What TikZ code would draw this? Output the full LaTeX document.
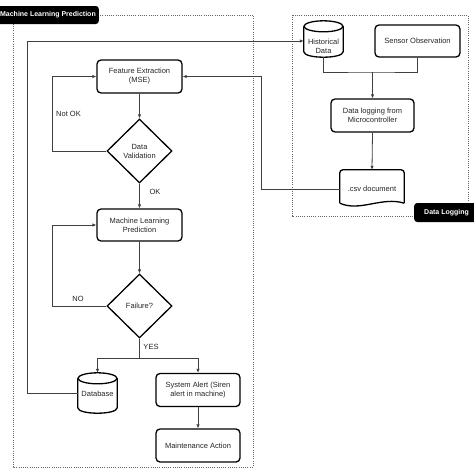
\documentclass[tikz,border=0pt]{standalone}
\usepackage{fontspec}
\setmainfont{Liberation Sans}
\usetikzlibrary{shapes.geometric,arrows.meta}
\newcommand\cylshape[1]{%
  \draw[cyl] ([yshift=-5.5pt]#1.north west) -- ([yshift=5.5pt]#1.south west)
    .. controls ([yshift=-1.83pt]#1.south west) and ([yshift=-1.83pt]#1.south east) ..
    ([yshift=5.5pt]#1.south east) -- ([yshift=-5.5pt]#1.north east);
  \draw[cyl] ([yshift=-5.5pt]#1.north) ellipse [x radius=19.5pt, y radius=5.5pt];
}
\begin{document}
\begin{tikzpicture}[x=1pt,y=-1pt,
 font=\fontsize{7.5}{9}\selectfont,
 box/.style={draw=black, line width=1.3pt, rounded corners=4pt, align=center, text=black!85},
 proc/.style={box, minimum width=85pt, minimum height=33pt, inner sep=1pt},
 dec/.style={diamond, draw=black, line width=1.3pt, minimum width=65pt, minimum height=64pt, inner sep=0pt, align=center, text=black!85},
 hid/.style={inner sep=0pt, align=center, text=black!85},
 cyl/.style={draw=black, line width=1.3pt},
 conn/.style={draw=black!75, line width=0.8pt},
 arr/.style={conn, -{Latex[length=4pt,width=3.5pt]}},
 grp/.style={draw=black!60, line width=0.9pt, dash pattern=on 1pt off 1.2pt},
 tag/.style={fill=black, text=white, font=\fontsize{7}{8.5}\selectfont\bfseries, rounded corners=3pt, minimum height=18pt, inner xsep=3pt, inner ysep=0pt},
 lbl/.style={inner sep=0pt, text=black!85}
]
\useasboundingbox (0,0) rectangle (474,474);
\fill[white] (0,0) rectangle (474,474);

% groups
\draw[grp] (13,15) rectangle (253,467);
\draw[grp] (292,15) rectangle (468,216);

% left flow
\node[proc] (fe) at (139.5,76.5) {Feature Extraction\\(MSE)};
\node[dec] (dv) at (139.5,151) {Data\\Validation};
\node[proc, minimum height=32pt] (ml) at (139.5,225) {Machine Learning\\Prediction};
\node[dec] (fail) at (139.5,306) {Failure?};
\node[proc, minimum width=84pt] (alert) at (198,390) {System Alert (Siren\\alert in machine)};
\node[proc, minimum width=84pt] (maint) at (198,445.5) {Maintenance Action};
\node[hid, minimum width=39pt, minimum height=40pt] (db) at (97.5,393) {};
\cylshape{db}
\node[lbl] (dbt) at (97.5,394) {Database};

% right flow
\node[hid, minimum width=39pt, minimum height=36pt] (hist) at (323.5,39) {};
\cylshape{hist}
\node[lbl, align=center] (histt) at (323.5,46) {Historical\\Data};
\node[proc, minimum height=32pt] (sens) at (417.5,41) {Sensor Observation};
\node[proc, minimum width=83pt] (dl) at (372.5,115.5) {Data logging from\\Microcontroller};
\node[hid, minimum width=64pt, minimum height=38pt] (csv) at (372,189) {.csv document};
\draw[cyl, rounded corners=3pt] ([yshift=5pt]csv.south west) -- (csv.north west) -- (csv.north east) -- ([yshift=5pt]csv.south east);
\draw[cyl] ([yshift=5pt]csv.south west) .. controls ([xshift=20pt,yshift=-4pt]csv.south west) and ([xshift=-22pt,yshift=12pt]csv.south east) .. ([yshift=5pt]csv.south east);

% connectors
\coordinate (lx) at (52,0);
\coordinate (bx) at (27,0);
\coordinate (cx) at (261,0);
\coordinate (split) at (139.5,358);
\coordinate (join) at (372.5,72);
\draw[arr] (fe.south) -- (dv.north);
\draw[arr] (dv.west) -- (dv.west -| lx) |- (fe.west);
\node[lbl] (notok) at (68.5,114) {Not OK};
\draw[arr] (dv.south) -- (ml.north);
\node[lbl] (ok) at (155,192) {OK};
\draw[arr] (ml.south) -- (fail.north);
\draw[arr] (fail.west) -- (fail.west -| lx) |- (ml.west);
\node[lbl] (no) at (78,299) {NO};
\draw[conn] (fail.south) -- (split);
\draw[arr] (split) -| (db.north);
\draw[arr] (split) -| (alert.north);
\node[lbl] (yes) at (151,347) {YES};
\draw[arr] (alert.south) -- (maint.north);
\draw[arr] (db.west) -- (db.west -| bx) |- ([yshift=-2pt]hist.west);
\draw[conn] (hist.south) |- (join) -| (sens.south);
\draw[arr] (join) -- (dl.north);
\draw[arr] (dl.south) -- (csv.north);
\draw[arr] (csv.west) -- (csv.west -| cx) |- (fe.east);

% tags
\node[tag, anchor=east] (mltag) at (99,15) {Machine Learning Prediction};
\node[tag, anchor=west, inner xsep=10pt, minimum height=19pt] (dltag) at (414,212.5) {Data Logging};
\end{tikzpicture}
\end{document}
